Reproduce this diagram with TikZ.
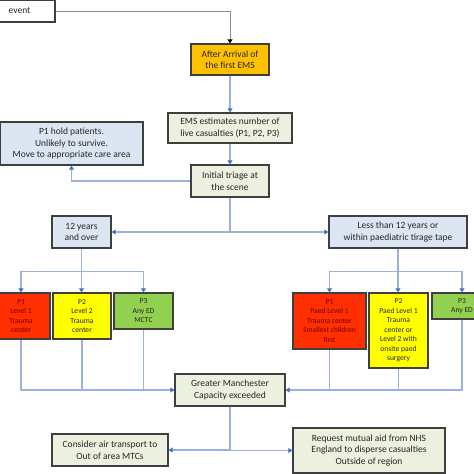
\documentclass[tikz,border=0pt]{standalone}
\usepackage{fontspec}
\setmainfont{Carlito}
\usepackage{tikz}
\usetikzlibrary{arrows.meta, positioning}
\definecolor{boxline}{HTML}{3F3F3F}
\definecolor{linkblue}{HTML}{9DB2D8}
\definecolor{tipblue}{HTML}{4472C4}
\definecolor{palegreen}{HTML}{EBF1DE}
\definecolor{paleblue}{HTML}{DCE6F2}
\definecolor{emsorange}{HTML}{FFC000}
\definecolor{trired}{HTML}{FF2F00}
\definecolor{triyellow}{HTML}{FFFF00}
\definecolor{trigreen}{HTML}{92D050}

\begin{document}
\begin{tikzpicture}[x=1pt,y=-1pt,
  box/.style={draw=boxline,line width=1.3pt,align=center,inner sep=0pt,
              font=\fontsize{9.5}{11.5}\selectfont,text=black!85},
  tag/.style={box,font=\fontsize{7.6}{9.5}\selectfont},
  conn/.style={draw=linkblue,line width=1.1pt,
               -{Triangle[width=5pt,length=4pt,color=tipblue]}},
  plain/.style={draw=linkblue,line width=1.1pt}]
  \useasboundingbox (0,0) rectangle (474,474);
  \clip (0,0) rectangle (474,474);
  % top of the chart
  \node[box,fill=white,minimum width=71,minimum height=22] (event) at (19.5,11) {event};
  \node[box,fill=emsorange,minimum width=78,minimum height=31] (arrival) at (230,59.5) {After Arrival of\\the first EMS};
  \node[box,fill=palegreen,minimum width=124,minimum height=30] (ems) at (230,128) {EMS estimates number of\\live casualties (P1, P2, P3)};
  \node[box,fill=palegreen,minimum width=78,minimum height=32] (triage) at (230,181) {Initial triage at\\the scene};
  \node[box,fill=paleblue,minimum width=143,minimum height=43] (hold) at (71.5,143.5) {P1 hold patients.\\Unlikely to survive.\\Move to appropriate care area};
  % age groups
  \node[box,fill=paleblue,minimum width=59,minimum height=32] (twelve) at (81.5,232) {12 years\\and over};
  \node[box,fill=paleblue,minimum width=138,minimum height=32] (less) at (398,232) {Less than 12 years or\\within paediatric tirage tape};
  % adult destinations
  \node[tag,fill=trired,text=red!45!black,minimum width=58,minimum height=46] (adultA) at (21,316) {P1\\Level 1\\Trauma\\center};
  \node[tag,fill=triyellow,minimum width=58,minimum height=46] (adultB) at (82,316) {P2\\Level 2\\Trauma\\center};
  \node[tag,fill=trigreen,minimum width=59,minimum height=36] (adultC) at (143.5,311) {P3\\Any ED\\MCTC};
  % paediatric destinations
  \node[tag,fill=trired,text=red!45!black,minimum width=73,minimum height=56] (paedA) at (329.5,321) {P1\\Paed Level 1\\Trauma center\\Smallest children\\first};
  \node[tag,fill=triyellow,minimum width=59,minimum height=75] (paedB) at (398.5,330.5) {P2\\Paed Level 1\\Trauma\\center or\\Level 2 with\\onsite paed\\surgery};
  \node[tag,fill=trigreen,minimum width=60,minimum height=26] (paedC) at (462,306) {P3\\Any ED};
  % capacity
  \node[box,fill=palegreen,minimum width=110,minimum height=32] (gm) at (230,390) {Greater Manchester\\Capacity exceeded};
  \node[box,fill=palegreen,minimum width=116,minimum height=32] (air) at (110,450) {Consider air transport to\\Out of area MTCs};
  \node[box,fill=palegreen,minimum width=152,minimum height=45] (mutual) at (369,450.5) {Request mutual aid from NHS\\England to disperse casualties\\Outside of region};

  % connectors
  \draw[draw=black!45,line width=1pt,-{Triangle[width=5pt,length=4pt,color=black]}] (event.east) -| (arrival.north);
  \draw[conn] (arrival) -- (ems);
  \draw[conn] (ems) -- (triage);
  \draw[conn] (triage.west) -| (hold.south);
  \draw[conn] (triage.south) |- (twelve.east);
  \draw[conn] (triage.south) |- (less.west);
  \draw[conn] (twelve.south) -- ++(0,23) -| (adultA.north);
  \draw[conn] (twelve.south) -- (twelve.south |- adultB.north);
  \draw[conn] (twelve.south) -- ++(0,23) -| (adultC.north);
  \draw[conn] (less.south) -- ++(0,23) -| (paedA.north);
  \draw[conn] (less.south) -- (less.south |- paedB.north);
  \draw[conn] (less.south) -- ++(0,23) -| (paedC.north);
  \draw[plain] (adultB.south) |- (gm.west);
  \draw[plain] (adultC.south) |- (gm.west);
  \draw[conn] (adultA.south) |- (gm.west);
  \draw[plain] (paedB.south) |- (gm.east);
  \draw[plain] (paedA.south) |- (gm.east);
  \draw[conn] (paedC.south) |- (gm.east);
  \draw[conn] (gm.south) |- (air.east);
  \draw[conn] (gm.south) |- (mutual.west);
\end{tikzpicture}
\end{document}
